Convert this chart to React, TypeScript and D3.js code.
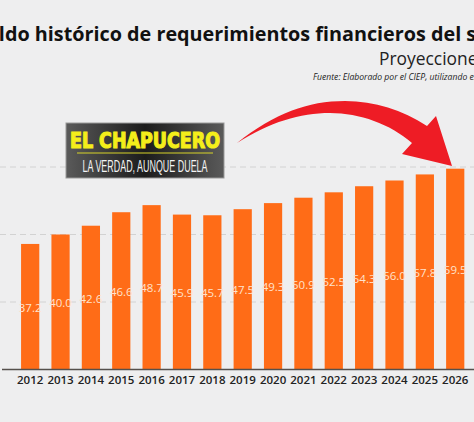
import React, { useEffect, useRef } from "react"
import * as d3 from "d3"

const YEARS = ["2012", "2013", "2014", "2015", "2016", "2017", "2018", "2019", "2020", "2021", "2022", "2023", "2024", "2025", "2026"]
const VALUES = [37.2, 40.0, 42.6, 46.6, 48.7, 45.9, 45.7, 47.5, 49.3, 50.9, 52.5, 54.3, 56.0, 57.8, 59.5]
const GRID_TICKS = [20, 40, 60]

const WIDTH = 474
const HEIGHT = 422
const BASELINE = 369.5
const FONT = "'Open Sans', 'Noto Sans', sans-serif"

export default function App() {
  const svgRef = useRef<SVGSVGElement>(null)

  useEffect(() => {
    const svg = d3.select(svgRef.current)
    svg.selectAll("*").remove()

    const xScale = d3.scaleBand<string>().domain(YEARS).range([15, 470.4]).paddingInner(0.4).paddingOuter(0.2)
    const yScale = d3.scaleLinear().domain([0, 60]).range([BASELINE, 167])

    const defs = svg.append("defs")
    const grad = defs.append("linearGradient").attr("id", "logo-bg").attr("x1", "0").attr("y1", "0").attr("x2", "1").attr("y2", "0")
    grad.append("stop").attr("offset", "0%").attr("stop-color", "#5a5a5a")
    grad.append("stop").attr("offset", "50%").attr("stop-color", "#1c1c1c")
    grad.append("stop").attr("offset", "100%").attr("stop-color", "#5a5a5a")

    svg.append("rect").attr("width", WIDTH).attr("height", HEIGHT).attr("fill", "#eeeeef")

    // Grid lines
    svg.append("g")
      .selectAll("line")
      .data(GRID_TICKS)
      .join("line")
      .attr("x1", 0).attr("x2", WIDTH)
      .attr("y1", (d) => yScale(d)).attr("y2", (d) => yScale(d))
      .attr("stroke", "#d2d2d2")
      .attr("stroke-dasharray", "6,4")

    // Bars
    svg.append("g")
      .selectAll("rect")
      .data(VALUES)
      .join("rect")
      .attr("x", (_, i) => xScale(YEARS[i]) as number)
      .attr("y", (d) => yScale(d))
      .attr("width", xScale.bandwidth())
      .attr("height", (d) => BASELINE - yScale(d))
      .attr("fill", "#ff6c17")

    // Value labels, pale so they fade out past the bar edges
    svg.append("g")
      .selectAll("text")
      .data(VALUES)
      .join("text")
      .attr("x", (_, i) => (xScale(YEARS[i]) as number) + xScale.bandwidth() / 2)
      .attr("y", (d) => (yScale(d) + BASELINE) / 2 + 5)
      .attr("text-anchor", "middle")
      .attr("font-family", FONT)
      .attr("font-size", 11.5)
      .attr("fill", "#ffe2cc")
      .text((d) => d.toFixed(1))

    // X axis
    svg.append("g")
      .attr("transform", `translate(0,${BASELINE})`)
      .call(d3.axisBottom(xScale).tickSize(0).tickPadding(6))
      .call((g) => g.select(".domain").attr("d", `M2,0H${WIDTH}`).attr("stroke", "#55504c").attr("stroke-width", 1.5))
      .call((g) =>
        g.selectAll("text")
          .attr("fill", "#222")
          .attr("font-size", 11.5)
          .attr("font-weight", 600)
          .attr("font-family", FONT)
      )

    // Titles
    svg.append("text")
      .attr("x", -24).attr("y", 41)
      .attr("font-family", FONT).attr("font-size", 19.8).attr("font-weight", 700).attr("fill", "#111")
      .text("Saldo histórico de requerimientos financieros del sector público")
    svg.append("text")
      .attr("x", 379).attr("y", 65)
      .attr("font-family", FONT).attr("font-size", 17.4).attr("fill", "#222")
      .text("Proyecciones")
    svg.append("text")
      .attr("x", 313).attr("y", 80)
      .attr("font-family", FONT).attr("font-size", 8.6).attr("font-style", "italic").attr("fill", "#222")
      .text("Fuente: Elaborado por el CIEP, utilizando estimaciones")

    // Arrow
    svg.append("path")
      .attr("d", "M237,143 C275,113 308,101 345,101 C375,101 402,110 427,126 L436,116 L452,166 L402,154 L412,143 C390,124 360,113 330,113 C300,113 270,122 237,143 Z")
      .attr("fill", "#ee1c25")

    // Logo
    const logo = svg.append("g")
    logo.append("rect").attr("x", 66).attr("y", 123).attr("width", 158).attr("height", 55).attr("fill", "url(#logo-bg)").attr("stroke", "#999")
    logo.append("text")
      .attr("x", 145).attr("y", 148)
      .attr("text-anchor", "middle")
      .attr("font-family", "'DejaVu Sans', sans-serif").attr("font-size", 21).attr("font-weight", 700)
      .attr("textLength", 150).attr("lengthAdjust", "spacingAndGlyphs")
      .attr("fill", "#f4ee1a").attr("stroke", "#f4ee1a").attr("stroke-width", 1.2)
      .text("EL CHAPUCERO")
    logo.append("line").attr("x1", 77).attr("x2", 213).attr("y1", 153).attr("y2", 153).attr("stroke", "#d8d428").attr("stroke-width", 1.2)
    logo.append("text")
      .attr("x", 145).attr("y", 172)
      .attr("text-anchor", "middle")
      .attr("font-family", "'Liberation Sans Narrow', 'Liberation Sans', sans-serif").attr("font-size", 16.5)
      .attr("textLength", 125).attr("lengthAdjust", "spacingAndGlyphs")
      .attr("fill", "#f4f4f4")
      .text("LA VERDAD, AUNQUE DUELA")
  }, [])

  return (
    <>
      <style>{"body{margin:0}"}</style>
      <svg ref={svgRef} width={WIDTH} height={HEIGHT} style={{ display: "block" }} />
    </>
  )
}
